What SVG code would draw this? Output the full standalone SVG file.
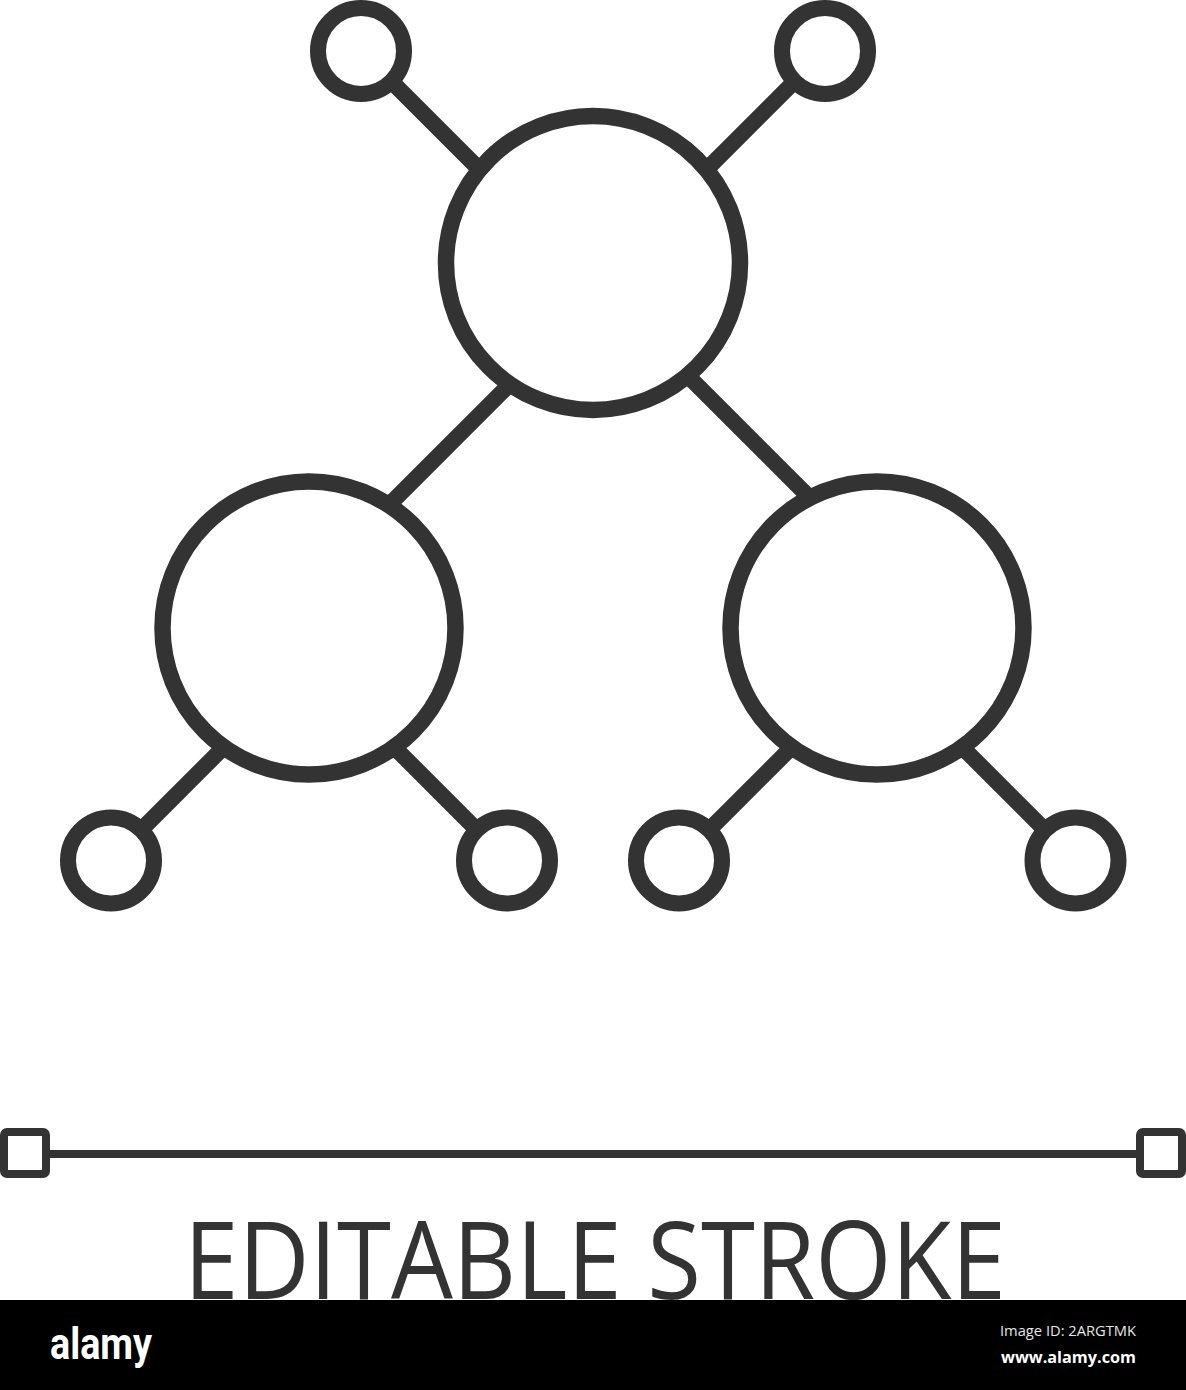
<svg xmlns="http://www.w3.org/2000/svg" width="1186" height="1390" viewBox="0 0 1186 1390">
  <style>
    .edge { stroke: #333333; stroke-width: 16; stroke-linecap: butt; fill: none; }
    .big { fill: #ffffff; stroke: #333333; stroke-width: 16.5; }
    .small { fill: #ffffff; stroke: #333333; stroke-width: 16; }
    .handle { fill: #ffffff; stroke: #333333; stroke-width: 8; }
    .label { font-family: "Open Sans", "Noto Sans", "Liberation Sans", sans-serif; fill: #333333; }
  </style>
  <rect x="0" y="0" width="1186" height="1390" fill="#ffffff"/>

  <g id="connectors">
    <line class="edge" x1="361" y1="51" x2="500" y2="190"/>
    <line class="edge" x1="825" y1="51" x2="686" y2="190"/>
    <line class="edge" x1="540" y1="354" x2="360" y2="534"/>
    <line class="edge" x1="650" y1="338" x2="830" y2="518"/>
    <line class="edge" x1="111" y1="860" x2="260" y2="711"/>
    <line class="edge" x1="507" y1="860" x2="360" y2="713"/>
    <line class="edge" x1="679" y1="860" x2="826" y2="713"/>
    <line class="edge" x1="1075" y1="860" x2="926" y2="711"/>
  </g>

  <g id="node-top"><circle class="big" cx="593" cy="263" r="147"/></g>
  <g id="node-left"><circle class="big" cx="309" cy="628" r="146.5"/></g>
  <g id="node-right"><circle class="big" cx="877" cy="628" r="146.5"/></g>
  <g id="node-top-left-small"><circle class="small" cx="361" cy="51" r="43"/></g>
  <g id="node-top-right-small"><circle class="small" cx="825" cy="51" r="43"/></g>
  <g id="node-bl1"><circle class="small" cx="111" cy="860.5" r="43"/></g>
  <g id="node-bl2"><circle class="small" cx="507" cy="860.5" r="43"/></g>
  <g id="node-br1"><circle class="small" cx="679" cy="860.5" r="43"/></g>
  <g id="node-br2"><circle class="small" cx="1075.5" cy="860.5" r="43"/></g>

  <g id="stroke-indicator">
    <line x1="46" y1="1154" x2="1140" y2="1154" stroke="#333333" stroke-width="8"/>
    <rect class="handle" x="4" y="1132" width="42" height="42" rx="3"/>
    <rect class="handle" x="1140" y="1132" width="42" height="42" rx="3"/>
  </g>

  <text class="label" x="184" y="1299" font-size="108" textLength="822" lengthAdjust="spacingAndGlyphs">EDITABLE STROKE</text>

  <g id="watermark-bar">
    <rect x="0" y="1300" width="1186" height="90" fill="#000000"/>
    <text x="50" y="1359" font-family="Roboto, 'Liberation Sans', sans-serif" font-weight="bold" font-size="44" fill="#ffffff" textLength="102" lengthAdjust="spacingAndGlyphs">alamy</text>
    <text x="1000" y="1336" font-family="'Open Sans', 'Noto Sans', sans-serif" font-size="14" fill="#e6e6e6" textLength="136" lengthAdjust="spacingAndGlyphs">Image ID: 2ARGTMK</text>
    <text x="1001" y="1363" font-family="'Open Sans', 'Noto Sans', sans-serif" font-weight="bold" font-size="16.5" fill="#ffffff" textLength="135" lengthAdjust="spacingAndGlyphs">www.alamy.com</text>
  </g>
</svg>
